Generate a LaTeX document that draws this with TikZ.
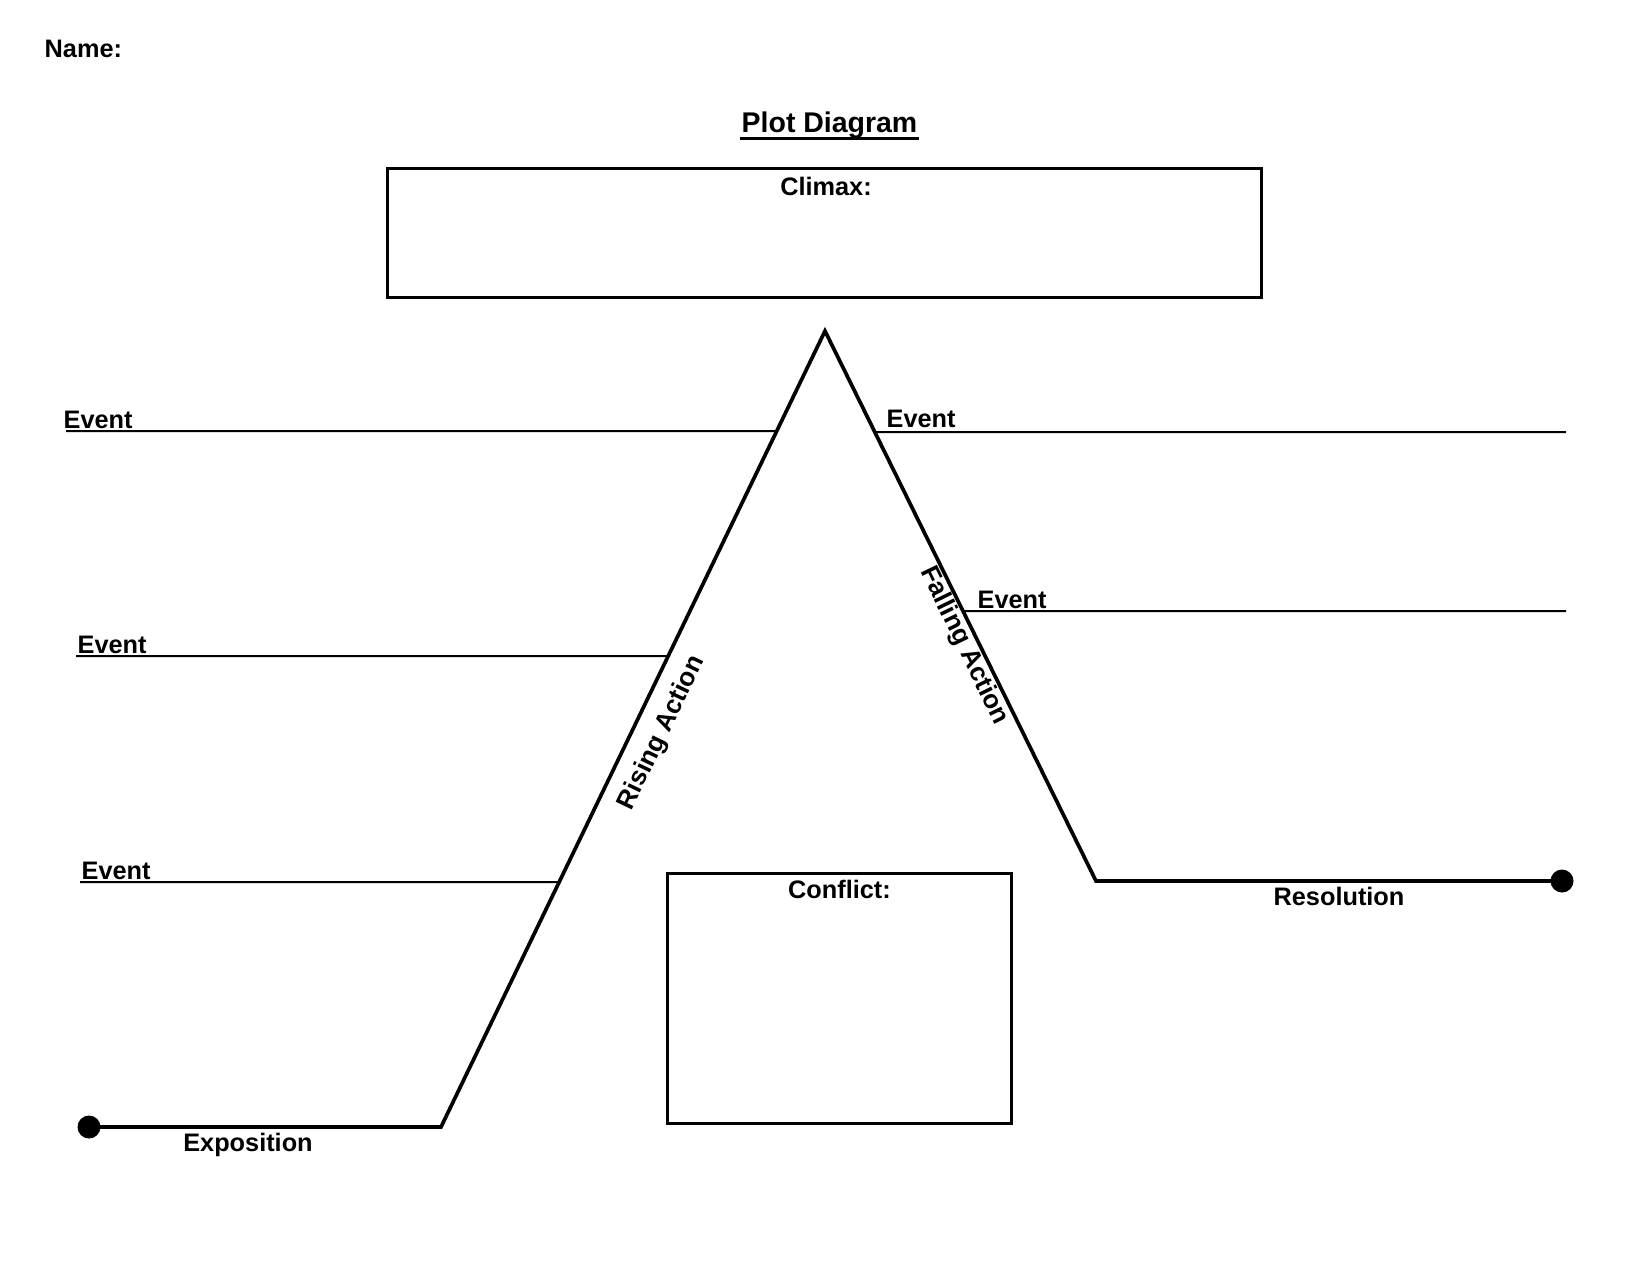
\documentclass[tikz,border=0pt]{standalone}
\usepackage{fontspec}
\setmainfont{Liberation Sans}
\begin{document}
\begin{tikzpicture}[x=0.1mm,y=-0.1mm,
  lbl/.style={font=\fontsize{7.2}{8}\selectfont\bfseries, inner sep=0pt},
  slant/.style={font=\fontsize{7.4}{9}\selectfont\bfseries, inner sep=0pt},
  boxed/.style={draw, line width=0.3mm, inner sep=0pt},
  plotline/.style={line width=0.37mm, line join=miter},
  eventline/.style={line width=0.2mm},
  enddot/.style={circle, fill, inner sep=0pt, minimum width=2.1mm, minimum height=2.3mm}]
\useasboundingbox (0,0) rectangle (1650,1275);
% header
\node[lbl, anchor=base west] (name) at (44,58) {Name:};
\node[font=\fontsize{8.1}{9}\selectfont\bfseries, inner sep=0pt, anchor=base] (title) at (829.5,133) {Plot Diagram};
\coordinate (ulA) at (740,138.5);
\coordinate (ulB) at (919,138.5);
\draw[line width=0.25mm] (ulA) -- (ulB);
% boxes
\node[boxed, minimum width=87.4mm, minimum height=12.8mm] (climaxbox) at (824,233) {};
\node[lbl, anchor=base] (climax) at (826,196) {Climax:};
\node[boxed, minimum width=34.4mm, minimum height=25mm] (conflictbox) at (839,998) {};
\node[lbl, anchor=base] (conflict) at (839.5,898) {Conflict:};
% plot line
\node[enddot] (dotL) at (89,1127) {};
\coordinate (baseL) at (441,1127);
\coordinate (apex) at (825,331);
\coordinate (baseR) at (1096,881);
\node[enddot] (dotR) at (1562,881) {};
\draw[plotline] (dotL.center) -- (baseL) -- (apex) -- (baseR) -- (dotR.center);
% event lines left
\coordinate (l1a) at (66,431);   \coordinate (l1b) at (1000,431);
\coordinate (l2a) at (76,656);   \coordinate (l2b) at (1000,656);
\coordinate (l3a) at (80,882);   \coordinate (l3b) at (1000,882);
\coordinate (l1x) at (intersection of baseL--apex and l1a--l1b);
\coordinate (l2x) at (intersection of baseL--apex and l2a--l2b);
\coordinate (l3x) at (intersection of baseL--apex and l3a--l3b);
\draw[eventline] (l1a) -- (l1x);
\draw[eventline] (l2a) -- (l2x);
\draw[eventline] (l3a) -- (l3x);
% event lines right
\coordinate (r1b) at (1566,432); \coordinate (r1a) at (500,432);
\coordinate (r2b) at (1566,611); \coordinate (r2a) at (500,611);
\coordinate (r1x) at (intersection of apex--baseR and r1a--r1b);
\coordinate (r2x) at (intersection of apex--baseR and r2a--r2b);
\draw[eventline] (r1x) -- (r1b);
\draw[eventline] (r2x) -- (r2b);
% event labels
\node[lbl, anchor=base west] (ev1) at (63,428) {Event};
\node[lbl, anchor=base west] (ev2) at (77,653) {Event};
\node[lbl, anchor=base west] (ev3) at (81,879) {Event};
\node[lbl, anchor=base west] (ev4) at (886,427) {Event};
\node[lbl, anchor=base west] (ev5) at (977,608) {Event};
% other labels
\node[lbl, anchor=base] (expo) at (248,1151) {Exposition};
\node[lbl, anchor=base] (reso) at (1339,905) {Resolution};
\node[slant, rotate=64.3] (rising) at (662,733) {Rising Action};
\node[slant, rotate=-64] (falling) at (964,646) {Falling Action};
\end{tikzpicture}
\end{document}
